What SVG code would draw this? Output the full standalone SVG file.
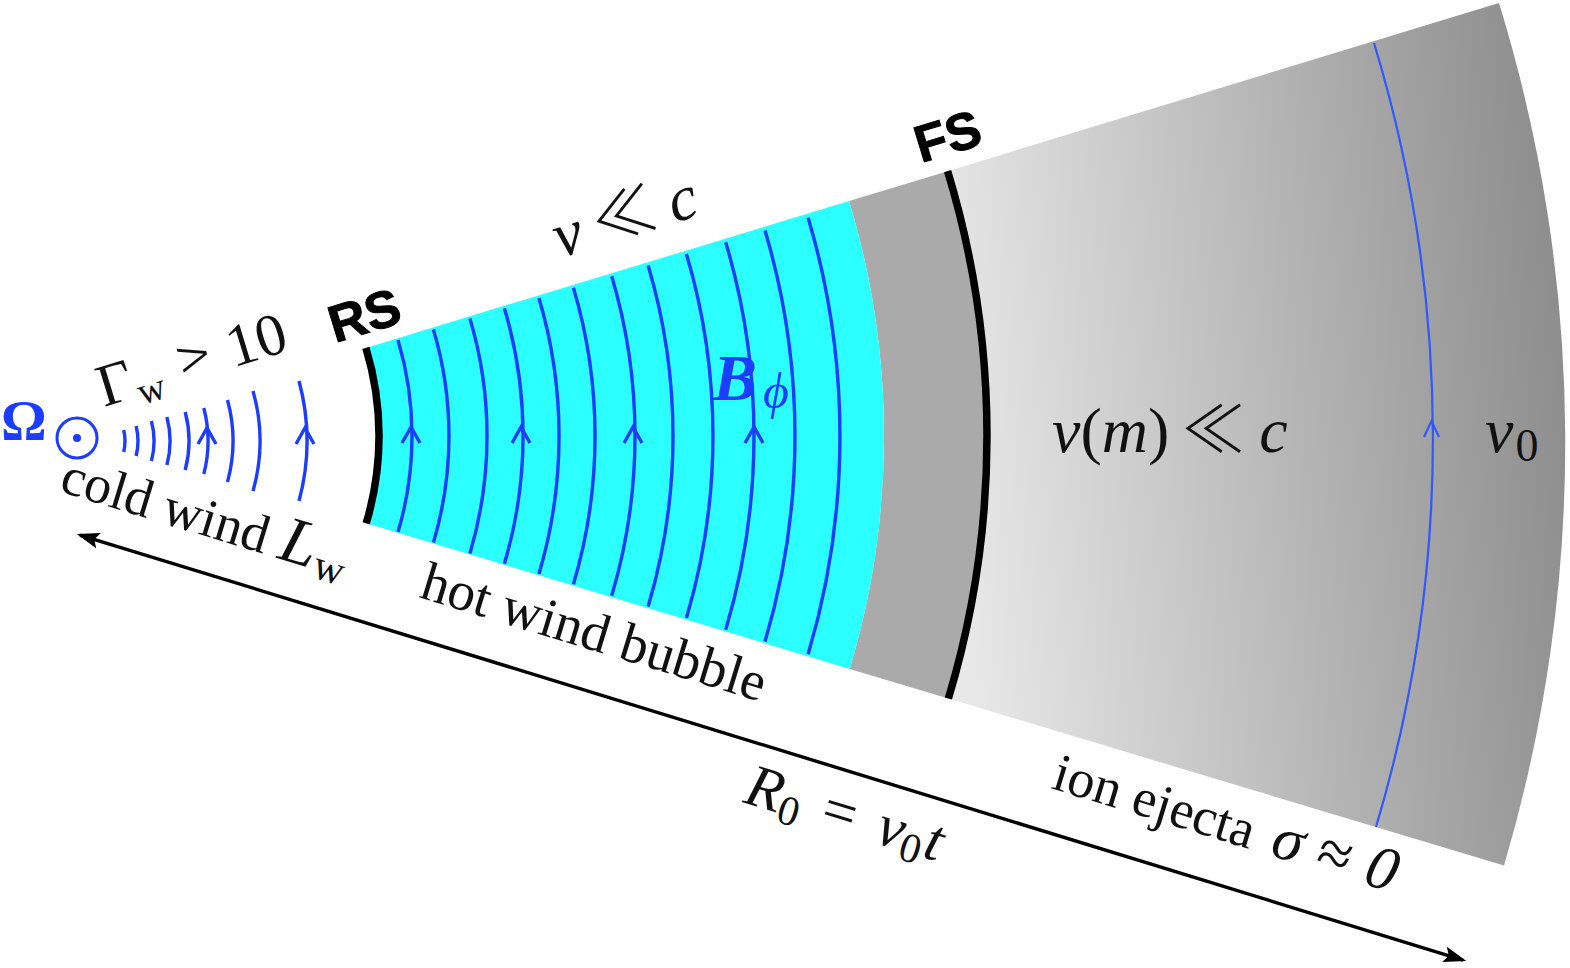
<svg xmlns="http://www.w3.org/2000/svg" width="1570" height="968" viewBox="0 0 1570 968">
<style>
.t{font-family:"Liberation Serif","DejaVu Serif",serif;fill:#111}
.i{font-style:italic}
.o{font-family:"Noto Sans CJK JP","DejaVu Sans",sans-serif;font-weight:300;font-style:normal}
.s{font-family:"Liberation Sans",sans-serif;font-weight:700;font-size:52px;fill:#000;stroke:#000;stroke-width:1}
.b{fill:none;stroke:#1c3cff;stroke-width:3.4;stroke-linecap:butt}
.w{fill:none;stroke:#1c3cff;stroke-width:3.4}
.e{fill:none;stroke:#2f58ff;stroke-width:2.2}
.k{fill:none;stroke:#000;stroke-width:7.5}
</style>
<defs>
<linearGradient id="g" gradientUnits="userSpaceOnUse" x1="950" y1="460" x2="1565" y2="400">
<stop offset="0" stop-color="#e8e8e8"/><stop offset="1" stop-color="#8e8e8e"/>
</linearGradient>
<marker id="h" viewBox="0 0 20 14" refX="17" refY="7" markerWidth="23" markerHeight="16" markerUnits="userSpaceOnUse" orient="auto-start-reverse">
<path d="M0 0L20 7L0 14L4 7Z" fill="#000"/>
</marker>
</defs>
<rect width="1570" height="968" fill="#fff"/>
<g id="ejecta"><path d="M947.6 171.2L1499 3A1491 1491 0 0 1 1504 865.5L948.4 698.5A911 911 0 0 0 947.6 171.2Z" fill="url(#g)"/></g>
<g id="shell"><path d="M849.1 201.1L947.6 171.2A911 911 0 0 1 948.4 698.5L849.7 668.9A808 808 0 0 0 849.1 201.1Z" fill="#aaaaaa"/></g>
<g id="bubble"><path d="M365.9 347.9L849.1 201.1A808 808 0 0 1 849.7 668.9L366.2 523.3A303 303 0 0 0 365.9 347.9Z" fill="#2bffff"/></g>
<g id="connectors">
<g id="field-lines">
<path class="b" d="M398 340A336 336 0 0 1 398 532"/>
<path class="b" d="M433.4 329.4A373 373 0 0 1 433.4 542.6"/>
<path class="b" d="M469.9 318.6A411 411 0 0 1 469.9 553.4"/>
<path class="b" d="M504.4 308.3A447 447 0 0 1 504.4 563.7"/>
<path class="b" d="M538.9 298A483 483 0 0 1 538.9 574"/>
<path class="b" d="M573.4 287.7A519 519 0 0 1 573.4 584.3"/>
<path class="b" d="M611.7 276.3A559 559 0 0 1 611.7 595.7"/>
<path class="b" d="M648.1 265.4A597 597 0 0 1 648.1 606.6"/>
<path class="b" d="M686.4 254A637 637 0 0 1 686.4 618"/>
<path class="b" d="M725.7 242.3A678 678 0 0 1 725.7 629.7"/>
<path class="b" d="M765 230.6A719 719 0 0 1 765 641.4"/>
<path class="b" d="M808.1 217.7A764 764 0 0 1 808.1 654.3"/>
<path class="b" d="M402 443L411 427L420 443M512 443L521 427L530 443M624 443L633 427L642 443M745 443L754 427L763 443"/>
</g>
<g id="wind-lines">
<path class="w" d="M123.7 430A48 48 0 0 1 123.7 452"/>
<path class="w" d="M136.1 426A61 61 0 0 1 136.1 456"/>
<path class="w" d="M151.4 421A77 77 0 0 1 151.4 461"/>
<path class="w" d="M166.9 417A93 93 0 0 1 166.9 465"/>
<path class="w" d="M185.2 412A112 112 0 0 1 185.2 470"/>
<path class="w" d="M203.8 408A131 131 0 0 1 203.8 474"/>
<path class="w" d="M227.5 400A156 156 0 0 1 227.5 482"/>
<path class="w" d="M253 391A183 183 0 0 1 253 491"/>
<path class="w" d="M299 381A230 230 0 0 1 299 501"/>
<path class="w" d="M198 444L207 428L216 444M296 444L305 428L314 444"/>
</g>
<g id="ejecta-line">
<path class="e" d="M1374 43A1356 1356 0 0 1 1376 827"/>
<path class="e" d="M1424 437L1431.5 421L1439 437" stroke-width="2.5"/>
</g>
<path id="axis" d="M80 535L1463 960" fill="none" stroke="#000" stroke-width="3.4" marker-start="url(#h)" marker-end="url(#h)"/>
</g>
<g id="rs"><path class="k" d="M365.9 347.9A303 303 0 0 1 366.2 523.3"/></g>
<g id="fs"><path class="k" d="M947.6 171.2A911 911 0 0 1 948.4 698.5"/></g>
<g id="labels">
<text class="s" transform="translate(335 343) rotate(-17)">RS</text>
<text class="s" transform="translate(921 163) rotate(-17)">FS</text>
<text class="t" transform="translate(104 407) rotate(-17)" font-size="60">Γ<tspan font-size="38" dy="9" dx="2">w</tspan><tspan dy="-9" dx="20" class="o">&gt;</tspan><tspan dx="19">10</tspan></text>
<text class="t i" transform="translate(560 258) rotate(-17)" font-size="64">v<tspan dx="13" class="o">≪</tspan><tspan dx="14">c</tspan></text>
<text class="t" transform="translate(58 491) rotate(17)" font-size="54">cold wind <tspan class="i" font-size="66">L</tspan><tspan font-size="42" dy="8" dx="2">w</tspan></text>
<text class="t" transform="translate(418 597) rotate(17)" font-size="55">hot wind bubble</text>
<text class="t" transform="translate(742 802) rotate(17)" font-size="60"><tspan class="i">R</tspan><tspan font-size="42" dy="9">0</tspan><tspan dy="-9" dx="22">=</tspan><tspan class="i" dx="24">v</tspan><tspan font-size="42" dy="9">0</tspan><tspan class="i" dy="-9" dx="2">t</tspan></text>
<text class="t" transform="translate(1050 788) rotate(17)" font-size="54">ion ejecta<tspan class="i" dx="20" font-size="62">σ</tspan><tspan dx="16" font-size="62">≈</tspan><tspan class="i" dx="17" font-size="62">0</tspan></text>
<text class="t" x="1052" y="452" font-size="64"><tspan class="i">v</tspan>(<tspan class="i">m</tspan>)<tspan dx="12" class="o">≪</tspan><tspan class="i" dx="14">c</tspan></text>
<text class="t" x="1485" y="452" font-size="64"><tspan class="i">v</tspan><tspan font-size="46" dy="9" dx="2">0</tspan></text>
<text class="t i" x="713" y="400" font-size="66" font-weight="700" style="fill:#1c3cff">B<tspan font-size="50" dy="8" dx="6" font-weight="400">ϕ</tspan></text>
<text class="t" x="1" y="440" font-size="57" font-weight="700" style="fill:#1c3cff">Ω</text>
</g>
<g id="omega-out">
<circle cx="77" cy="438" r="20" fill="none" stroke="#1c3cff" stroke-width="3"/>
<circle cx="77" cy="438" r="4" fill="#1c3cff"/>
</g>
</svg>
